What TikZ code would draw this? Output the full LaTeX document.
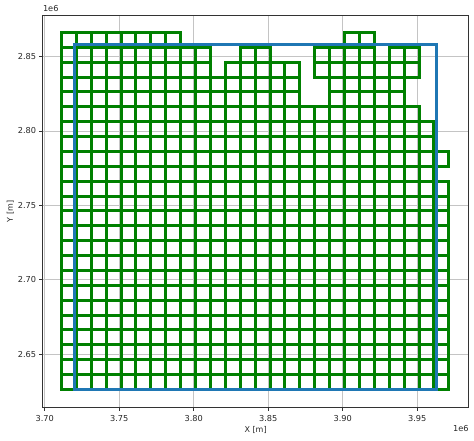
\documentclass[tikz,border=0pt]{standalone}
\usepackage{fontspec}
\setmainfont{DejaVu Sans}
\definecolor{mplgreen}{HTML}{008000}
\definecolor{mplblue}{HTML}{1F77B4}
\definecolor{gridgray}{HTML}{C4C4C4}
\begin{document}
\begin{tikzpicture}[x=1pt,y=1pt,
  cell/.style={draw=mplgreen, line width=2.6pt},
  region/.style={draw=mplblue, line width=3pt},
  gridline/.style={draw=gridgray, line width=0.8pt},
  spine/.style={draw=black!80, line width=0.8pt},
  ticklbl/.style={font=\fontsize{8.2}{9}\selectfont, inner sep=0pt, text=black!85},
  axlbl/.style={font=\fontsize{8}{9}\selectfont, inner sep=0pt, text=black!85}]
\useasboundingbox (0,0) rectangle (474,440);
\fill[white] (0,0) rectangle (474,440);
% axes frame corners
\coordinate (ll) at (42.5,32.2);
\coordinate (ur) at (468.8,425);
% grid lines
\foreach \px in {44.8,119.3,193.8,268.3,342.8,417.3}
  \draw[gridline] (\px,32.2) -- (\px,425);
\foreach \py in {85.8,160.2,234.6,309.0,383.4}
  \draw[gridline] (42.5,\py) -- (468.8,\py);
% green 10 km cells, edges snapped to whole pixels
\foreach \k/\a/\b in {23/0/7, 23/19/20,
    22/0/9, 22/12/13, 22/17/20, 22/22/23,
    21/0/9, 21/11/15, 21/17/23,
    20/0/15, 20/18/22,
    19/0/15, 19/18/22,
    18/0/23, 17/0/24, 16/0/24, 15/0/25, 14/0/24,
    13/0/25, 12/0/25, 11/0/25, 10/0/25, 9/0/25, 8/0/25, 7/0/25,
    6/0/25, 5/0/25, 4/0/25, 3/0/25, 2/0/25, 1/0/25, 0/0/25}
  \foreach \i in {\a,...,\b}{
    \pgfmathsetmacro\xl{round(61+14.9*\i)+0.5}
    \pgfmathsetmacro\xr{round(61+14.9*(\i+1))+0.5}
    \pgfmathsetmacro\yb{round(50+14.88*\k)+0.5}
    \pgfmathsetmacro\yt{round(50+14.88*(\k+1))+0.5}
    \draw[cell] (\xl,\yb) rectangle (\xr,\yt);
  }
% blue region
\draw[region] (74.5,50.5) rectangle (436.5,395.5);
% spines
\draw[spine] (ll) rectangle (ur);
% x ticks
\foreach \px/\lbl in {44.8/3.70,119.3/3.75,193.8/3.80,268.3/3.85,342.8/3.90,417.3/3.95}{
  \draw[spine] (\px,32.2) -- (\px,28.7);
  \node[ticklbl, anchor=base] at (\px,18.4) {\lbl};
}
% y ticks
\foreach \py/\lbl in {85.8/2.65,160.2/2.70,234.6/2.75,309.0/2.80,383.4/2.85}{
  \draw[spine] (42.5,\py) -- (39,\py);
  \node[ticklbl, anchor=east] at (36.3,\py) {\lbl};
}
% axis labels and offsets
\node[axlbl] (xl) at (255.6,10) {X [m]};
\node[axlbl, rotate=90] (yl) at (10.3,228.6) {Y [m]};
\node[ticklbl, anchor=base west] (offy) at (42.8,428.2) {1e6};
\node[ticklbl, anchor=base east] (offx) at (468.8,8.6) {1e6};
\end{tikzpicture}
\end{document}
